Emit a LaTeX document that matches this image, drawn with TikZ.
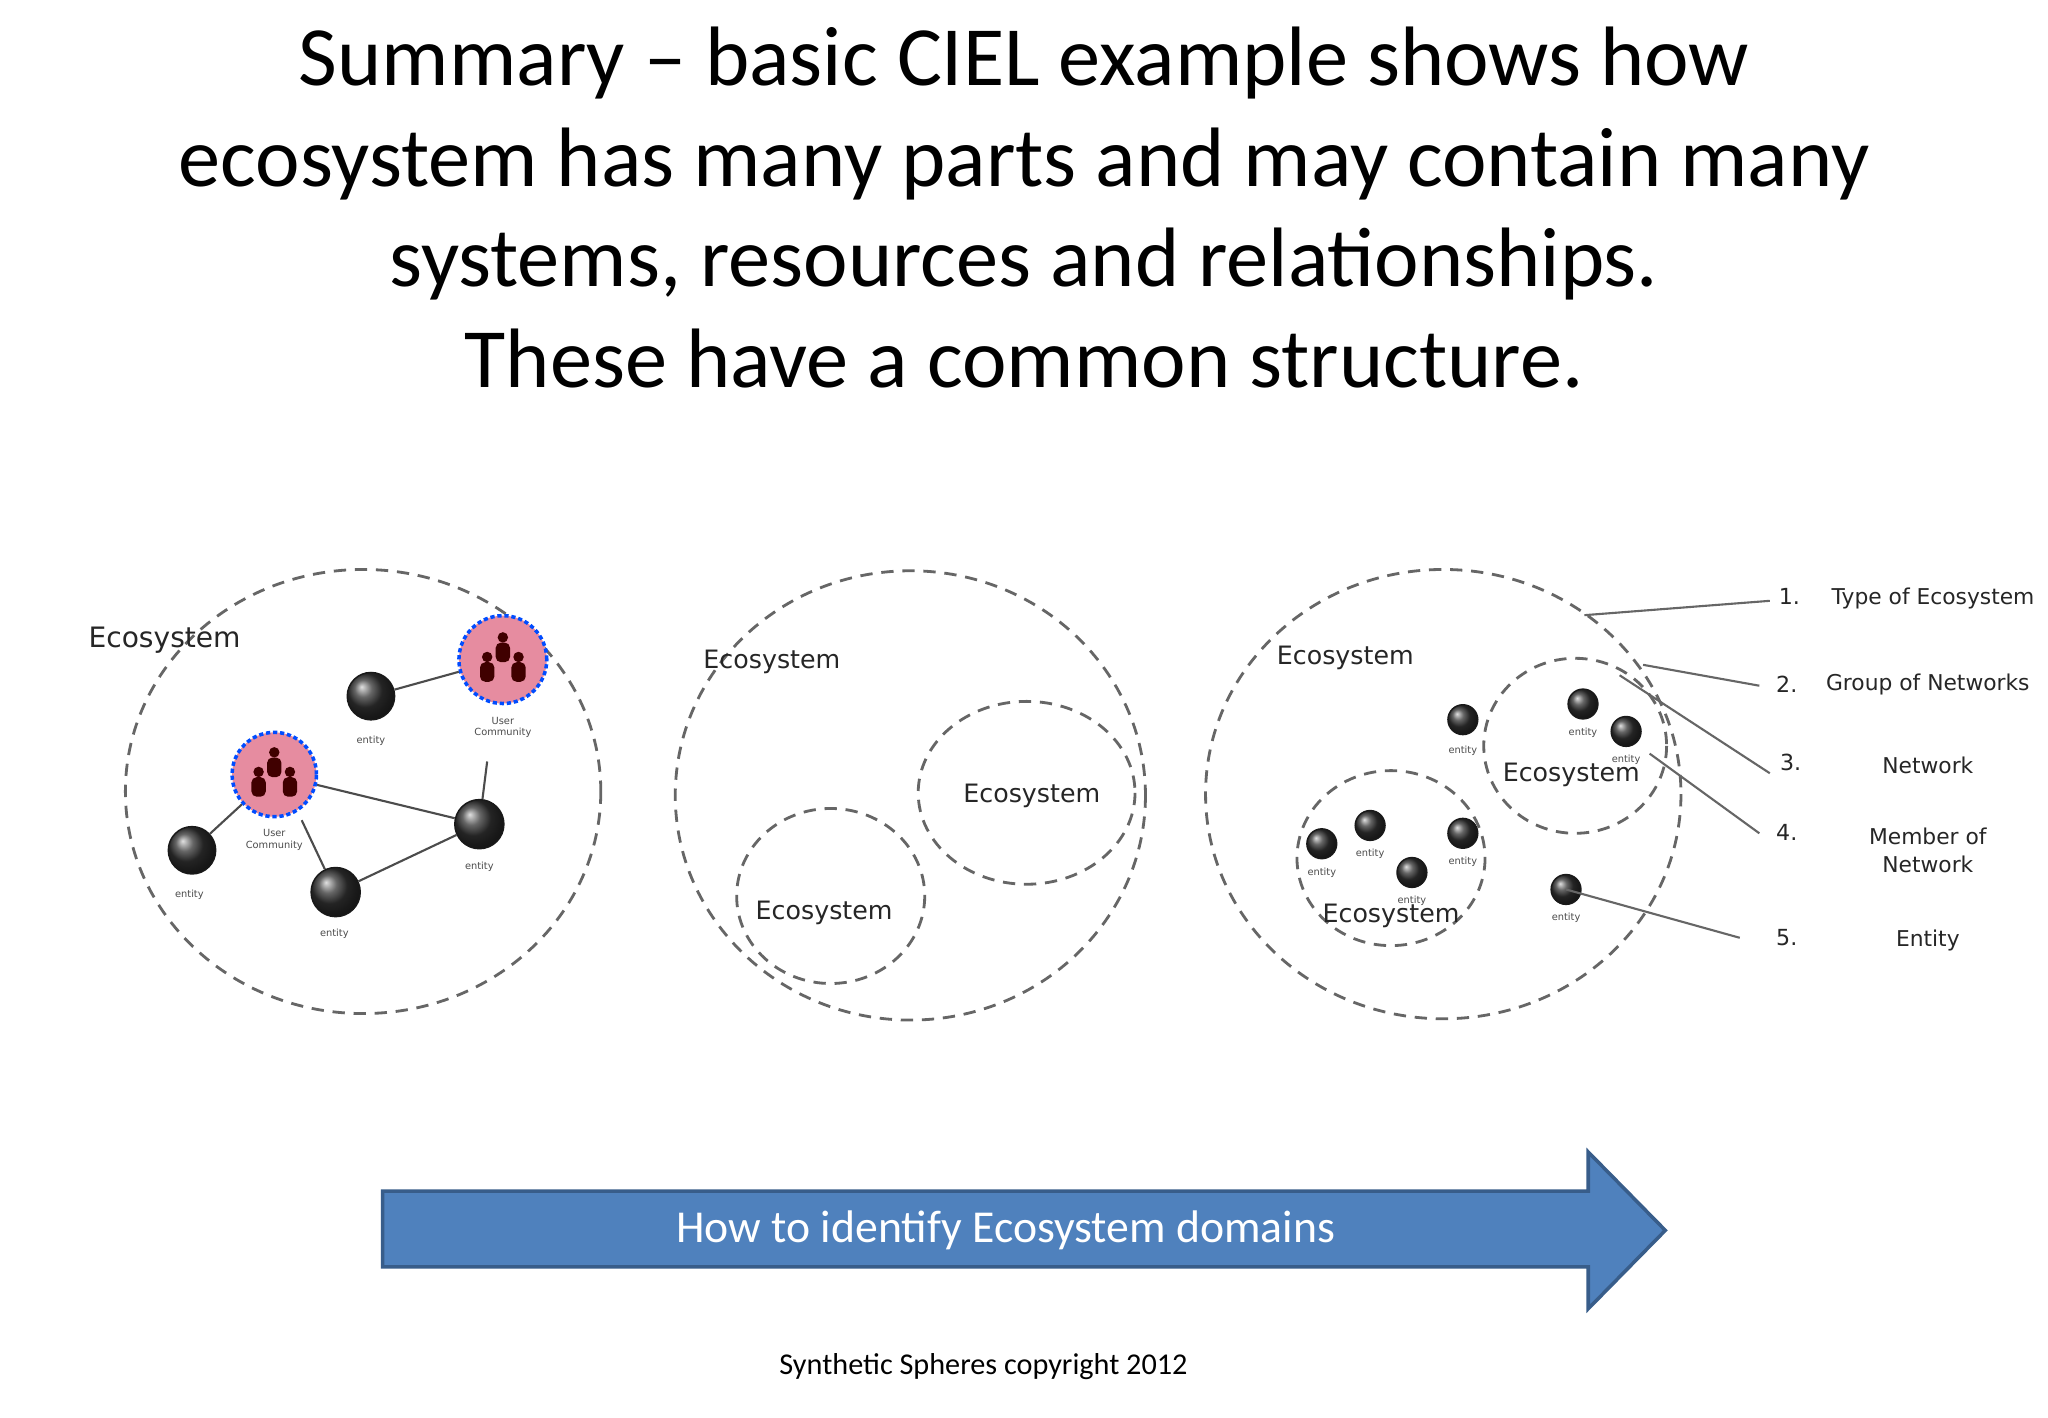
\documentclass[tikz,border=0pt]{standalone}
\usepackage{fontspec}
\setmainfont{Carlito}
\newfontfamily\djsans{DejaVu Sans}
\begin{document}
\begin{tikzpicture}[x=0.013061cm,y=-0.013061cm,
  eco/.style={draw=black!60,line width=0.8pt,dash pattern=on 3.5pt off 2.5pt},
  lab/.style={font=\djsans\fontsize{7.2}{8}\selectfont,text=black!85},
  tiny/.style={font=\djsans\fontsize{2.8}{3.2}\selectfont,text=black!70,align=center},
  ent/.style={circle,inner sep=0pt,minimum size=#1,ball color=black!80,draw=black!90},
  link/.style={draw=black!70,line width=0.6pt},
  lead/.style={draw=black!60,line width=0.6pt},
  num/.style={font=\djsans\fontsize{6.3}{7}\selectfont,text=black!85},
  key/.style={font=\djsans\fontsize{6.2}{8}\selectfont,text=black!85,align=center},
  uc/.style={circle,inner sep=0pt,minimum size=#1,fill={rgb,255:red,230;green,140;blue,160},draw=blue!70!cyan,dash pattern=on 1.2pt off 0.8pt,line width=1pt}]
\useasboundingbox (0,0) rectangle (1568,1085);
\fill[white] (0,0) rectangle (1568,1085);
\node[font=\fontsize{24}{28.6}\selectfont,align=center] (title) at (784,159)
 {Summary -- basic CIEL example shows how\\ecosystem has many parts and may contain many\\systems, resources and relationships.\\These have a common structure.};
% left
\draw[eco] (278,606) ellipse [x radius=182,y radius=170];
\node[lab,font=\djsans\fontsize{8}{9}\selectfont] (l0) at (126,490) {Ecosystem};
\newcommand\myppl[2]{%
 \foreach \dx/\dy in {0/-10,-12/5,12/5}{
  \fill[black!75!red] (#1+\dx,#2+\dy-7) circle (4);
  \fill[black!75!red,rounded corners=1.5pt] (#1+\dx-5.5,#2+\dy-3) rectangle (#1+\dx+5.5,#2+\dy+12);}}
\node[uc=25pt] (uc1) at (385,505) {};\myppl{385}{505}
\node[uc=24pt] (uc2) at (210,593) {};\myppl{210}{593}
\node[ent=13.5pt] (a1) at (284,533) {};
\node[ent=14pt] (a2) at (367,631) {};
\node[ent=13.5pt] (a3) at (147,651) {};
\node[ent=14pt] (a4) at (257,683) {};
\node[tiny] at (385,557) {User\\Community};
\node[tiny] at (210,643) {User\\Community};
\node[tiny] at (284,567) {entity};
\node[tiny] at (367,664) {entity};
\node[tiny] at (145,685) {entity};
\node[tiny] at (256,715) {entity};
\draw[link] (a1) -- (uc1);
\draw[link] (373,583) -- (a2);
\draw[link] (uc2) -- (a2);
\draw[link] (uc2) -- (a3);
\draw[link] (231,628) -- (a4);
\draw[link] (a4) -- (a2);
% middle
\draw[eco] (697,609) ellipse [x radius=180,y radius=172];
\draw[eco] (786,607) ellipse [x radius=83,y radius=70];
\draw[eco] (636,686) ellipse [x radius=72,y radius=67];
\node[lab] (m0) at (591,507) {Ecosystem};
\node[lab] (m1) at (790,609) {Ecosystem};
\node[lab] (m2) at (631,699) {Ecosystem};
% right
\draw[eco] (1105,608) ellipse [x radius=182,y radius=172];
\draw[eco] (1206,571) ellipse [x radius=70,y radius=67];
\draw[eco] (1065,657) ellipse [x radius=72,y radius=67];
\node[lab] (r0) at (1030,504) {Ecosystem};
\node[lab] (r1) at (1203,593) {Ecosystem};
\node[lab] (r2) at (1065,701) {Ecosystem};
\foreach \n/\x/\y/\ly in {b1/1120/551/575,b2/1212/539/561,b3/1245/560/582,b4/1012/646/668,b5/1049/632/654,b6/1081/668/690,b7/1120/638/660,b8/1199/681/703}{
  \node[ent=8.5pt] (\n) at (\x,\y) {};
  \node[tiny] at (\x,\ly) {entity};}
\coordinate (k1) at (1213,471); \coordinate (k2) at (1258,509);
\coordinate (k3) at (1240,517); \coordinate (k4) at (1263,577);
\node[num] (n1) at (1370,457) {1.};
\node[num] (n2) at (1368,524) {2.};
\node[num] (n3) at (1371,584) {3.};
\node[num] (n4) at (1368,637) {4.};
\node[num] (n5) at (1368,718) {5.};
\node[key] (t1) at (1480,458) {Type of Ecosystem};
\node[key] (t2) at (1476,524) {Group of Networks};
\node[key] (t3) at (1476,586) {Network};
\node[key] (t4) at (1476,651) {Member of\\Network};
\node[key] (t5) at (1476,720) {Entity};
\draw[lead] (k1) -- (1355,460);
\draw[lead] (k2) -- (1347,525);
\draw[lead] (k3) -- (1355,592);
\draw[lead] (k4) -- (1347,638);
\draw[lead] (b8.center) -- (1332,718);
% arrow
\draw[fill={rgb,255:red,79;green,129;blue,189},draw={rgb,255:red,56;green,93;blue,138},line width=1pt]
 (293,912) -- (1216,912) -- (1216,882) -- (1275,942) -- (1216,1002) -- (1216,970) -- (293,970) -- cycle;
\node[text=white,font=\fontsize{13}{15}\selectfont] (arr) at (770,942) {How to identify Ecosystem domains};
\node[font=\fontsize{8.6}{10}\selectfont] (copy) at (753,1046) {Synthetic Spheres copyright 2012};
\end{tikzpicture}
\end{document}
